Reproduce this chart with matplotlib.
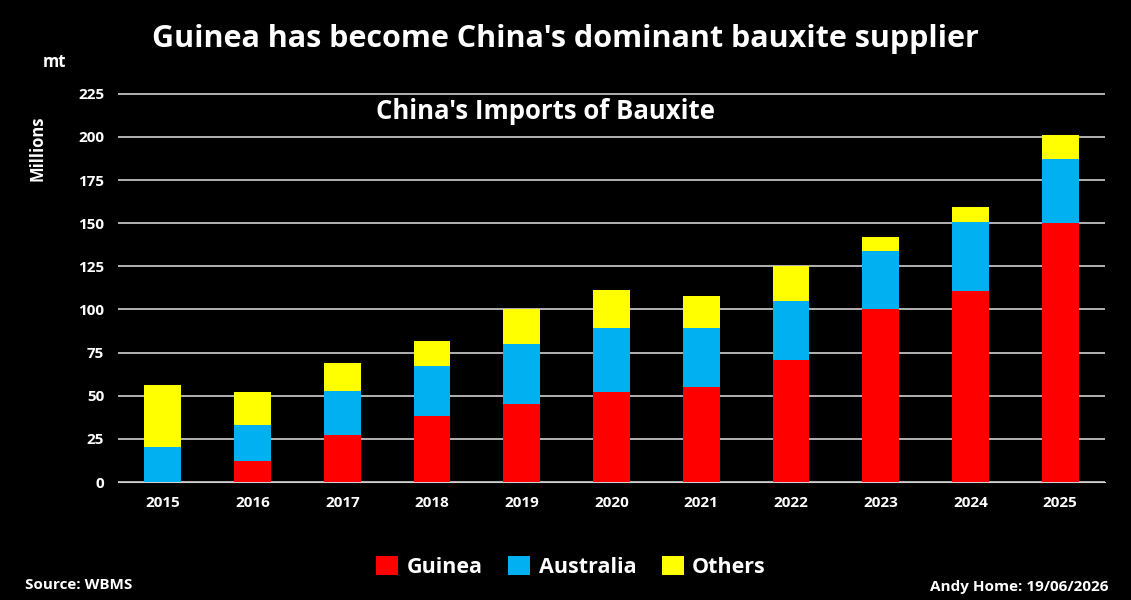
import matplotlib
matplotlib.use("Agg")
import matplotlib.pyplot as plt
import numpy as np

years = ["2015","2016","2017","2018","2019","2020","2021","2022","2023","2024","2025"]
guinea = [0, 12, 27, 38, 45, 52, 55, 71, 100, 110.5, 150]
australia = [20, 21, 26, 29, 35, 37, 34, 34, 34, 40, 37]
others = [36, 19, 16, 15, 20, 22, 19, 20, 8, 9, 14]

plt.rcParams['font.family'] = ['Open Sans', 'DejaVu Sans']
fig = plt.figure(figsize=(11.31, 6.0), dpi=100, facecolor='black')
ax = fig.add_axes([118/1131, (600-482)/600, (1105-118)/1131, (482-80)/600], facecolor='black')
x = np.arange(len(years))
g = np.array(guinea); a = np.array(australia); o = np.array(others)
w = 0.41
ax.bar(x, g, w, color='#ff0000', label='Guinea', zorder=3)
ax.bar(x, a, w, bottom=g, color='#00b0f0', label='Australia', zorder=3)
ax.bar(x, o, w, bottom=g+a, color='#ffff00', label='Others', zorder=3)
ax.set_xlim(-0.5, len(years)-0.5)
ax.set_ylim(0, 233)
ax.set_yticks(range(0, 226, 25))
ax.set_xticks(x, years)
ax.yaxis.grid(True, color='#d0d0d0', linewidth=1.2, zorder=0)
for s in ['top','right','left']:
    ax.spines[s].set_visible(False)
ax.spines['bottom'].set_color('#d0d0d0')
ax.tick_params(colors='white', length=0, labelsize=11, pad=10)
for t in ax.get_xticklabels()+ax.get_yticklabels():
    t.set_fontweight('bold')
ax.set_ylabel('Millions', color='white', fontsize=12, fontweight='bold')
ax.yaxis.set_label_coords(-0.072, 0.83)
fig.text(0.5, 0.935, "Guinea has become China's dominant bauxite supplier", color='white',
         fontsize=22, fontweight='bold', ha='center', va='center')
fig.text(0.482, 0.815, "China's Imports of Bauxite", color='white', fontsize=18.5,
         fontweight='bold', ha='center', va='center')
fig.text(55/1131, 0.897, 'mt', color='white', fontsize=12, fontweight='bold', ha='center', va='center')
fig.legend(loc='center', bbox_to_anchor=(0.505, 0.055), ncol=3, frameon=False,
           labelcolor='white', prop={'size': 15.5, 'weight': 'bold'},
           handlelength=1.0, handleheight=1.0, columnspacing=1.2, handletextpad=0.4)
fig.text(0.022, 0.025, 'Source: WBMS', color='white', fontsize=11, fontweight='bold', va='center')
fig.text(0.98, 0.022, 'Andy Home: 19/06/2026', color='white', fontsize=11, fontweight='bold',
         va='center', ha='right')
fig.savefig('out.png', facecolor='black')
